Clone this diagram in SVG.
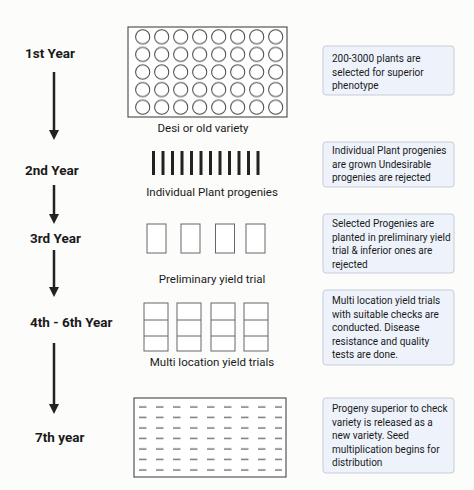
<svg xmlns="http://www.w3.org/2000/svg" width="474" height="490" viewBox="0 0 474 490">
<defs>
<style>
.yr{font-family:Roboto,"Liberation Sans",sans-serif;font-weight:bold;font-size:13.5px;fill:#1a1a1a}
.cap{font-family:Roboto,"Liberation Sans",sans-serif;font-size:11.5px;fill:#1a1a1a;text-anchor:middle}
.note{font-family:Roboto,"Liberation Sans",sans-serif;font-size:10px;fill:#1a1a1a}
.box{fill:#eef3fb;stroke:#c5ccd6;stroke-width:1}
.frame{fill:#fff;stroke:#555;stroke-width:1.2}
.cell{fill:#fff;stroke:#666;stroke-width:1}
.circ{fill:none;stroke:#444;stroke-width:1}
.bar{fill:#222}
.dash{stroke:#666;stroke-width:1.3}
.arr{stroke:#222;stroke-width:2.5;fill:none}
</style>
<marker id="ah" markerWidth="4" markerHeight="4" refX="2" refY="2" orient="auto" markerUnits="strokeWidth">
<path d="M0,0 L4,2 L0,4 z" fill="#222"/>
</marker>
<pattern id="circles" x="133" y="28" width="19" height="17.6" patternUnits="userSpaceOnUse">
<circle cx="9.7" cy="8.8" r="7.1" class="circ"/>
</pattern>
<pattern id="dashes" x="138" y="402" width="17" height="10.5" patternUnits="userSpaceOnUse">
<line x1="1" y1="5" x2="8.5" y2="5" class="dash"/>
</pattern>
</defs>
<rect width="474" height="490" fill="#fcfcfa"/>

<g id="connectors">
<line x1="54" y1="72" x2="54" y2="135" class="arr" marker-end="url(#ah)"/>
<line x1="54" y1="185" x2="54" y2="219" class="arr" marker-end="url(#ah)"/>
<line x1="54" y1="250" x2="54" y2="292" class="arr" marker-end="url(#ah)"/>
<line x1="54" y1="343" x2="54" y2="409" class="arr" marker-end="url(#ah)"/>
</g>

<g id="year1"><text class="yr" x="25" y="58">1st Year</text></g>
<g id="year2"><text class="yr" x="25" y="175">2nd Year</text></g>
<g id="year3"><text class="yr" x="30" y="243">3rd Year</text></g>
<g id="year4"><text class="yr" x="30" y="327">4th - 6th Year</text></g>
<g id="year7"><text class="yr" x="35" y="442">7th year</text></g>

<g id="desi">
<rect x="128" y="27" width="159" height="90" class="frame"/>
<rect x="133" y="28" width="152" height="88" fill="url(#circles)"/>
<text class="cap" x="203" y="132">Desi or old variety</text>
</g>

<g id="progenies">
<rect class="bar" x="152" y="151" width="3" height="24"/>
<rect class="bar" x="161.5" y="151" width="3" height="24"/>
<rect class="bar" x="171" y="151" width="3" height="24"/>
<rect class="bar" x="180.5" y="151" width="3" height="24"/>
<rect class="bar" x="190" y="151" width="3" height="24"/>
<rect class="bar" x="199.5" y="151" width="3" height="24"/>
<rect class="bar" x="209" y="151" width="3" height="24"/>
<rect class="bar" x="218.5" y="151" width="3" height="24"/>
<rect class="bar" x="228" y="151" width="3" height="24"/>
<rect class="bar" x="237.5" y="151" width="3" height="24"/>
<rect class="bar" x="247" y="151" width="3" height="24"/>
<rect class="bar" x="256.5" y="151" width="3" height="24"/>
<text class="cap" x="212" y="196">Individual Plant progenies</text>
</g>

<g id="preliminary">
<rect class="cell" x="147" y="224" width="19" height="29"/>
<rect class="cell" x="181" y="224" width="19" height="29"/>
<rect class="cell" x="215.5" y="224" width="19" height="29"/>
<rect class="cell" x="246" y="224" width="19" height="29"/>
<text class="cap" x="212" y="283">Preliminary yield trial</text>
</g>

<g id="multi">
<g transform="translate(144,303)"><rect class="cell" width="24" height="48"/><line class="cell" x1="0" y1="17" x2="24" y2="17"/><line class="cell" x1="0" y1="33" x2="24" y2="33"/></g>
<g transform="translate(177,303)"><rect class="cell" width="24" height="48"/><line class="cell" x1="0" y1="17" x2="24" y2="17"/><line class="cell" x1="0" y1="33" x2="24" y2="33"/></g>
<g transform="translate(211,303)"><rect class="cell" width="24" height="48"/><line class="cell" x1="0" y1="17" x2="24" y2="17"/><line class="cell" x1="0" y1="33" x2="24" y2="33"/></g>
<g transform="translate(244,303)"><rect class="cell" width="24" height="48"/><line class="cell" x1="0" y1="17" x2="24" y2="17"/><line class="cell" x1="0" y1="33" x2="24" y2="33"/></g>
<text class="cap" x="212" y="366">Multi location yield trials</text>
</g>

<g id="field">
<rect x="134" y="398" width="152" height="79" class="frame"/>
<rect x="138" y="402" width="144" height="73" fill="url(#dashes)"/>
</g>

<g id="note1">
<rect class="box" x="323" y="46" width="131" height="49" rx="3"/>
<text class="note" x="332" y="62">200-3000 plants are</text>
<text class="note" x="332" y="75.5">selected for superior</text>
<text class="note" x="332" y="89">phenotype</text>
</g>
<g id="note2">
<rect class="box" x="323" y="142" width="131" height="45" rx="3"/>
<text class="note" x="332" y="154">Individual Plant progenies</text>
<text class="note" x="332" y="167.5">are grown Undesirable</text>
<text class="note" x="332" y="181">progenies are rejected</text>
</g>
<g id="note3">
<rect class="box" x="323" y="214" width="131" height="59" rx="3"/>
<text class="note" x="332" y="227">Selected Progenies are</text>
<text class="note" x="332" y="240.5">planted in preliminary yield</text>
<text class="note" x="332" y="254">trial &amp; inferior ones are</text>
<text class="note" x="332" y="267.5">rejected</text>
</g>
<g id="note4">
<rect class="box" x="323" y="290" width="131" height="75" rx="3"/>
<text class="note" x="332" y="304">Multi location yield trials</text>
<text class="note" x="332" y="317.5">with suitable checks are</text>
<text class="note" x="332" y="331">conducted. Disease</text>
<text class="note" x="332" y="344.5">resistance and quality</text>
<text class="note" x="332" y="358">tests are done.</text>
</g>
<g id="note5">
<rect class="box" x="323" y="398" width="131" height="75" rx="3"/>
<text class="note" x="332" y="412">Progeny superior to check</text>
<text class="note" x="332" y="425.5">variety is released as a</text>
<text class="note" x="332" y="439">new variety. Seed</text>
<text class="note" x="332" y="452.5">multiplication begins for</text>
<text class="note" x="332" y="466">distribution</text>
</g>
</svg>
